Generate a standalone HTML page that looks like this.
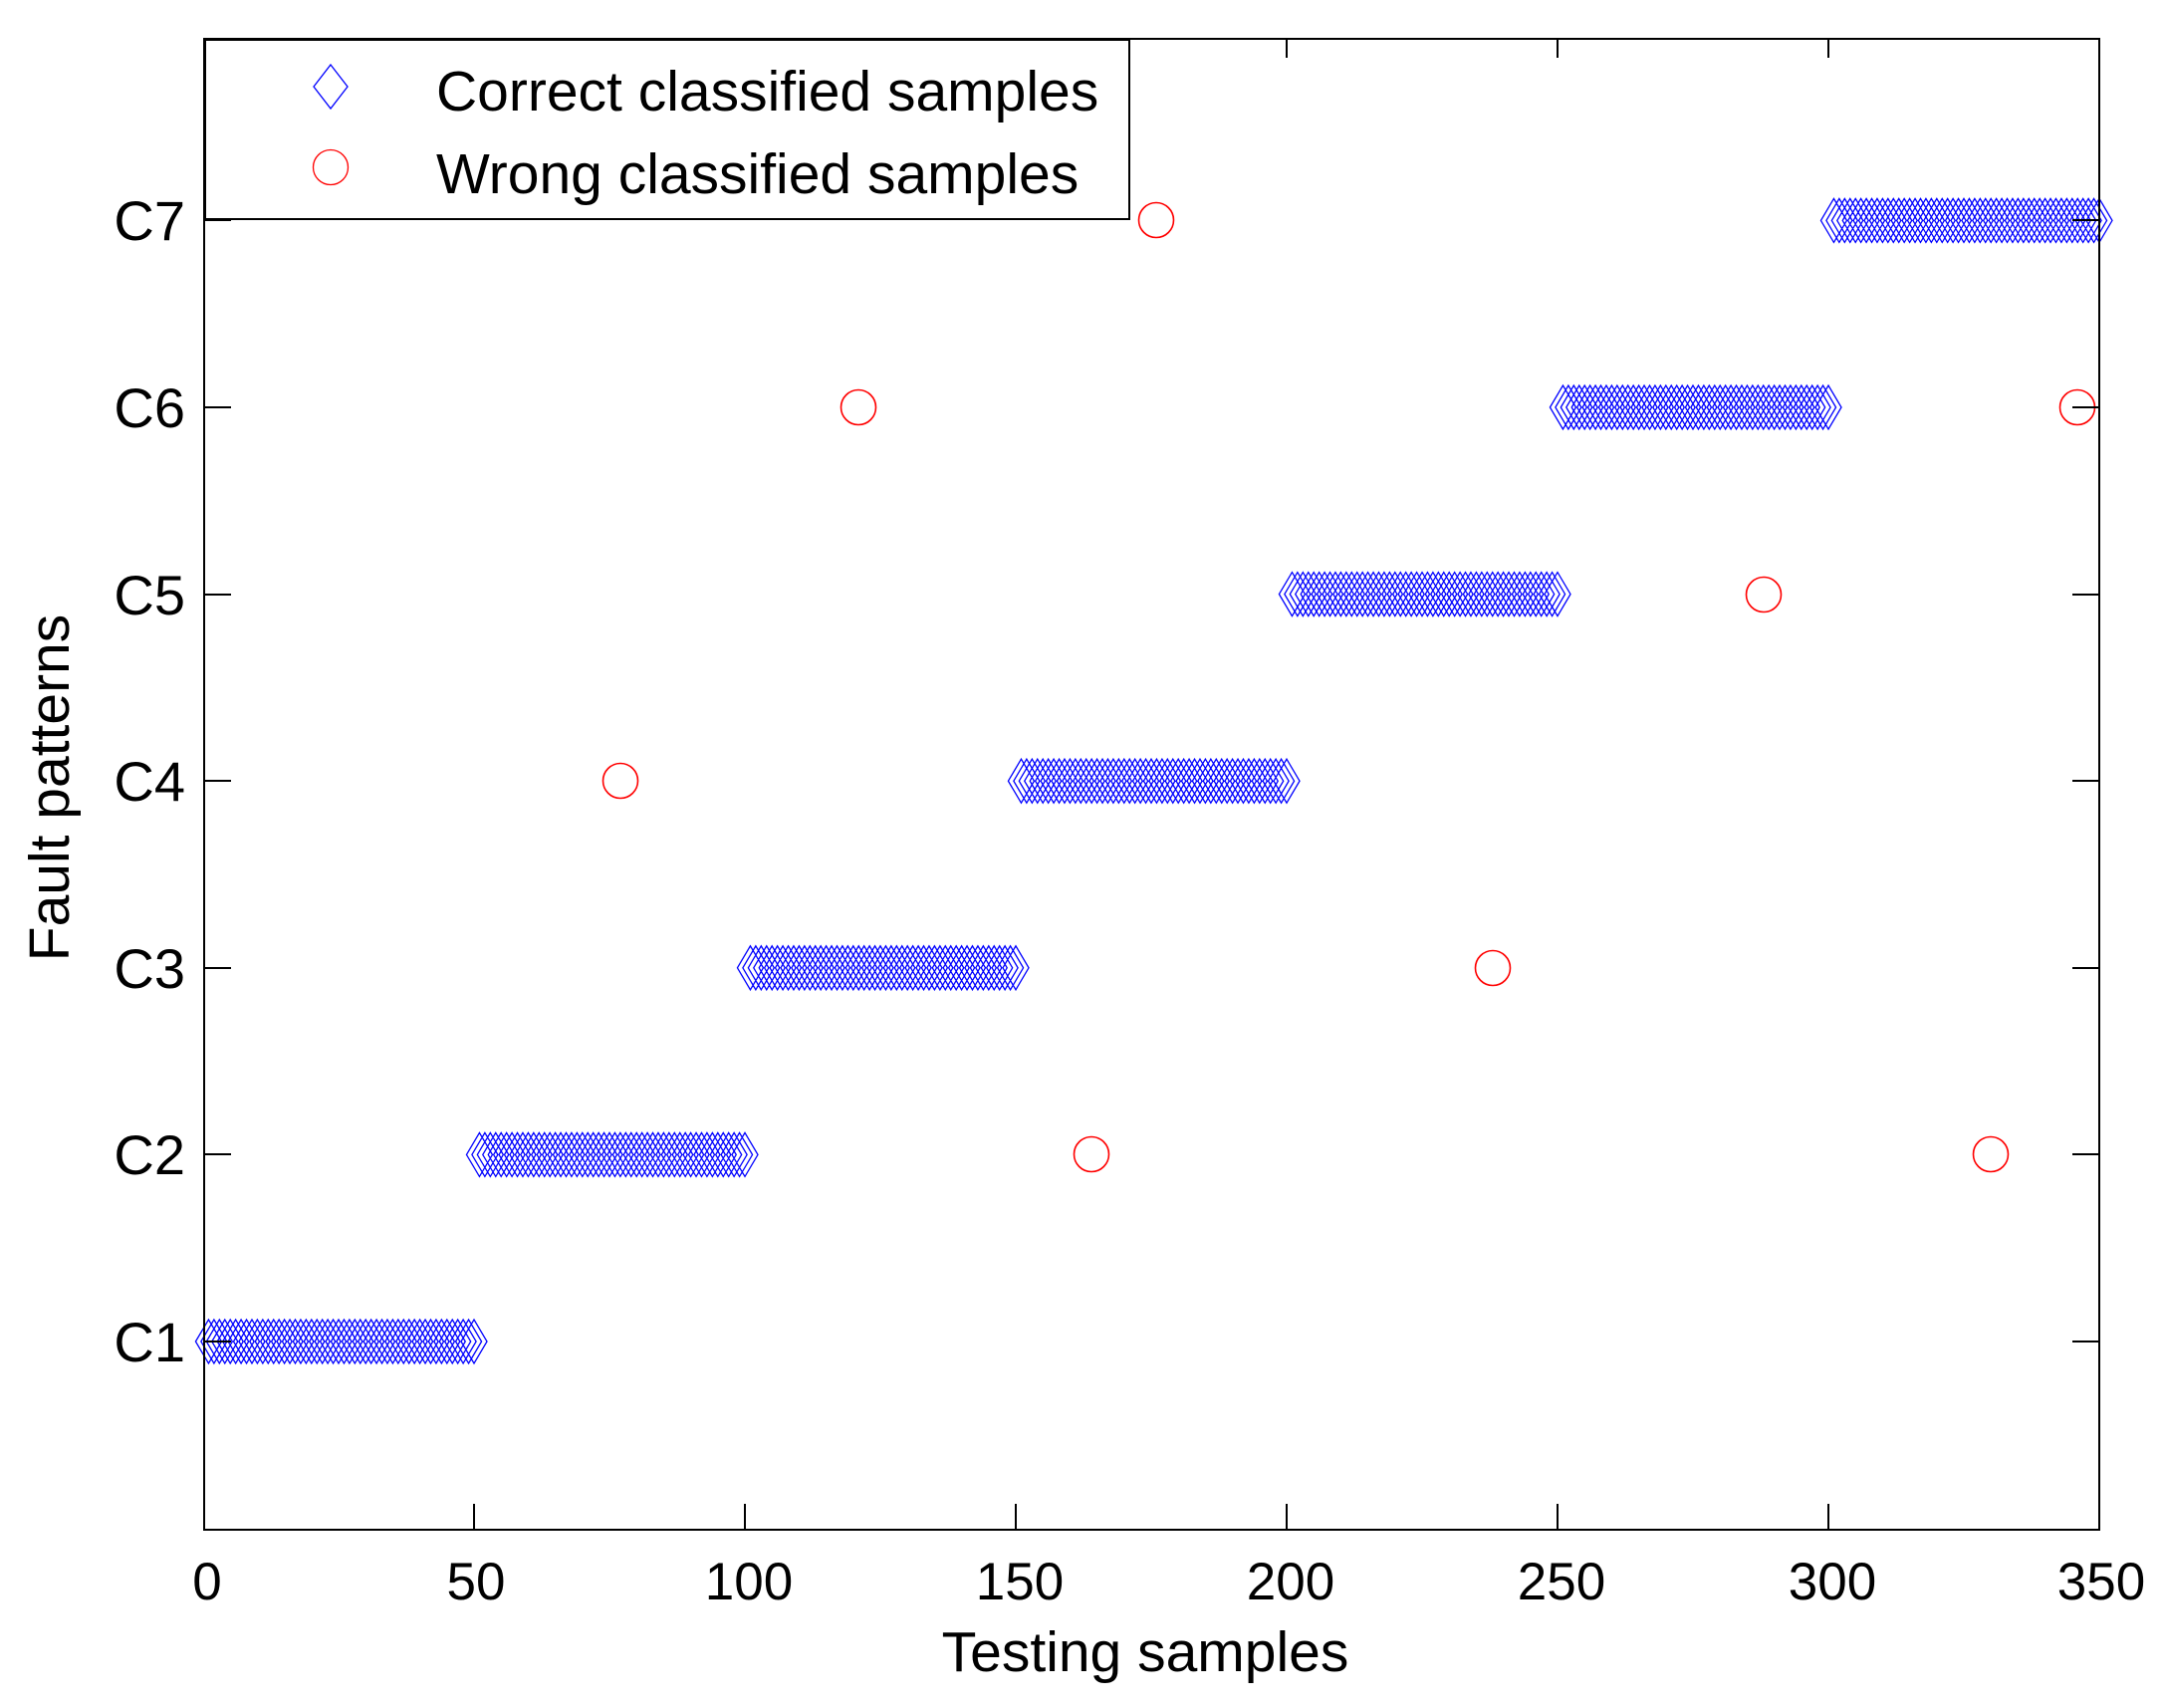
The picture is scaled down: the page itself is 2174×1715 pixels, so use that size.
<!DOCTYPE html>
<html><head><meta charset="utf-8"><style>html,body{margin:0;padding:0;background:#fff}svg{display:block}</style></head>
<body>
<svg xmlns="http://www.w3.org/2000/svg" width="2174" height="1715" viewBox="0 0 2174 1715" font-family="Liberation Sans, Arial, sans-serif">
<rect width="2174" height="1715" fill="#fff"/>
<g id="d" fill="none" stroke="#0000ff" stroke-width="1.3"></g>
<script>
(function(){
var ns="http://www.w3.org/2000/svg",g=document.getElementById('d');
var s="";
for(var i=1;i<=350;i++){
 var k=Math.ceil(i/50); var x=204+i*5.44, y=1347-(k-1)*187.6;
 s+="M"+(x-13)+" "+y+"L"+x+" "+(y-22)+"L"+(x+13)+" "+y+"L"+x+" "+(y+22)+"Z";}
var p=document.createElementNS(ns,'path');p.setAttribute('d',s);g.appendChild(p);
})();
</script>
<g fill="none" stroke="#ff0000" stroke-width="1.6">
<circle cx="623" cy="784" r="17.5"/>
<circle cx="862" cy="409" r="17.5"/>
<circle cx="1096" cy="1159" r="17.5"/>
<circle cx="1161" cy="221" r="17.5"/>
<circle cx="1499" cy="972" r="17.5"/>
<circle cx="1771" cy="597" r="17.5"/>
<circle cx="1999" cy="1159" r="17.5"/>
<circle cx="2086" cy="409" r="17.5"/>
</g>
<g stroke="#000" stroke-width="2" fill="none">
<rect x="205" y="39" width="1903" height="1497"/>
<path d="M476 1536V1510M748 1536V1510M1020 1536V1510M1292 1536V1510M1564 1536V1510M1836 1536V1510"/>
<path d="M476 39V58M748 39V58M1020 39V58M1292 39V58M1564 39V58M1836 39V58"/>
<path d="M205 1347H232M205 1159H232M205 972H232M205 784H232M205 597H232M205 409H232M205 221H232"/>
<path d="M2108 1347H2081M2108 1159H2081M2108 972H2081M2108 784H2081M2108 597H2081M2108 409H2081M2108 221H2081"/>
</g>
<rect x="206" y="40" width="928" height="180" fill="#fff" stroke="#000" stroke-width="2"/>
<path d="M332 65L349 87L332 109L315 87Z" fill="none" stroke="#0000ff" stroke-width="1.3"/>
<circle cx="332" cy="168" r="17.5" fill="none" stroke="#ff0000" stroke-width="1.3"/>
<g font-size="57" fill="#000">
<text x="438" y="111">Correct classified samples</text>
<text x="438" y="194">Wrong classified samples</text>
</g>
<g font-size="56" fill="#000" text-anchor="end">
<text x="186" y="1367">C1</text><text x="186" y="1179">C2</text><text x="186" y="992">C3</text>
<text x="186" y="804">C4</text><text x="186" y="617">C5</text><text x="186" y="429">C6</text><text x="186" y="241">C7</text>
</g>
<g font-size="53" fill="#000" text-anchor="middle">
<text x="208" y="1606">0</text><text x="478" y="1606">50</text><text x="752" y="1606">100</text>
<text x="1024" y="1606">150</text><text x="1296" y="1606">200</text><text x="1568" y="1606">250</text>
<text x="1840" y="1606">300</text><text x="2110" y="1606">350</text>
<text x="1150" y="1678" font-size="57">Testing samples</text>
<text transform="translate(69,791) rotate(-90)" font-size="57">Fault patterns</text>
</g>
</svg>
</body></html>
